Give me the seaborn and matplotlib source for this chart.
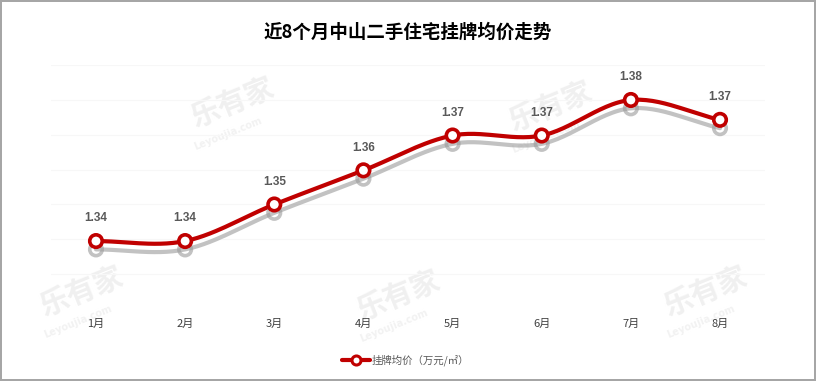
import matplotlib
matplotlib.use("Agg")
import matplotlib.pyplot as plt
import matplotlib.patheffects as pe
import numpy as np
import seaborn as sns

# 数据
meses = ["1月", "2月", "3月", "4月", "5月", "6月", "7月", "8月"]
precos = [1.3395, 1.3395, 1.3500, 1.3598, 1.3698, 1.3698, 1.3800, 1.3743]
titulo = "近8个月中山二手住宅挂牌均价走势"
legenda = "挂牌均价（万元/㎡）"

sns.set_theme(style="white")
plt.rcParams["font.family"] = ["Noto Sans CJK SC", "DejaVu Sans"]

vermelho = "#c00000"

fig = plt.figure(figsize=(8.16, 3.81), dpi=100)
fig.patch.set_edgecolor("#a6a6a6")
fig.patch.set_linewidth(1.5)
ax = fig.add_axes([0.063, 0.189, 0.874, 0.64])

x = np.arange(len(meses))
y = np.array(precos)

# curva suavizada (Catmull-Rom) a partir dos pontos
def suavizar(x, y, n=30):
    px = np.concatenate([[2 * x[0] - x[1]], x, [2 * x[-1] - x[-2]]])
    py = np.concatenate([[2 * y[0] - y[1]], y, [2 * y[-1] - y[-2]]])
    xs, ys = [], []
    for i in range(1, len(px) - 2):
        t = np.linspace(0, 1, n)
        for arr, out in ((px, xs), (py, ys)):
            p0, p1, p2, p3 = arr[i - 1], arr[i], arr[i + 1], arr[i + 2]
            out.append(0.5 * (2 * p1 + (-p0 + p2) * t + (2 * p0 - 5 * p1 + 4 * p2 - p3) * t ** 2
                              + (-p0 + 3 * p1 - 3 * p2 + p3) * t ** 3))
    return np.concatenate(xs), np.concatenate(ys)

xs, ys = suavizar(x, y)
sombra = [pe.SimpleLineShadow(offset=(0, -6), shadow_color="#9a9a9a", alpha=0.6, rho=1), pe.Normal()]

# marca d'água
for wx, wy in [(0.284, 0.73), (0.674, 0.72), (0.10, 0.235), (0.488, 0.225), (0.864, 0.235)]:
    fig.text(wx, wy, "乐有家", fontsize=21, fontweight="bold", color="#f0f0f0", rotation=22,
             ha="center", va="center", zorder=-5)
    fig.text(wx - 0.005, wy - 0.08, "Leyoujia.com", fontsize=7, fontweight="bold", color="#f2f2f2",
             rotation=22, ha="center", va="center", zorder=-5, family=["DejaVu Sans"])

sns.lineplot(x=xs, y=ys, ax=ax, color=vermelho, lw=3, sort=False, path_effects=sombra, zorder=3)
ax.plot(x, y, ls="none", marker="o", ms=9, mfc="white", mec=vermelho, mew=2.6,
        path_effects=sombra, zorder=4)

for xi, yi in zip(x, y):
    ax.annotate(f"{yi:.2f}", (xi, yi), xytext=(0, 12), textcoords="offset points",
                ha="center", va="bottom", fontsize=8.5, color="#595959", fontweight="bold",
                family=["Liberation Sans", "DejaVu Sans"], zorder=6)

ax.set_xlim(-0.5, len(meses) - 0.5)
ax.set_ylim(1.32, 1.39)
ax.set_xticks(x)
ax.set_xticklabels(meses, fontsize=8, color="#404040")
ax.set_yticks([1.33, 1.34, 1.35, 1.36, 1.37, 1.38, 1.39])
ax.set_yticklabels([])
ax.tick_params(axis="x", length=0, pad=7)
ax.tick_params(axis="y", length=0)
ax.grid(axis="y", color="#f7f7f7", lw=0.8)
ax.patch.set_alpha(0)
for s in ax.spines.values():
    s.set_visible(False)

fig.text(0.5, 0.915, titulo, ha="center", va="center", fontsize=13.3, fontweight="bold", color="#000000")

# legenda
lx, ly = 0.436, 0.055
fig.add_artist(plt.Line2D([lx - 0.017, lx + 0.017], [ly, ly], transform=fig.transFigure, color=vermelho, lw=3))
fig.add_artist(plt.Line2D([lx], [ly], transform=fig.transFigure, marker="o", ms=6.5, mfc="white",
                          mec=vermelho, mew=2.2))
fig.text(0.456, ly, legenda, ha="left", va="center", fontsize=7.5, color="#595959")

fig.savefig("out.png", dpi=100)
